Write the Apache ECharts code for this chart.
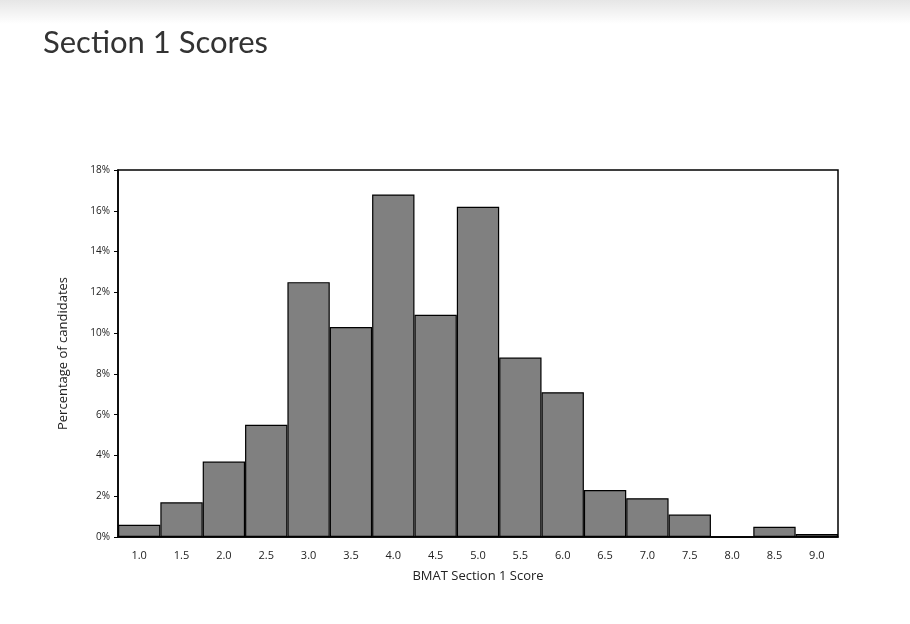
<!DOCTYPE html>
<html>
<head>
<meta charset="utf-8">
<script src="https://cdn.jsdelivr.net/npm/echarts@6/dist/echarts.min.js"></script>
<style>
  html, body { margin: 0; padding: 0; background: #fff; }
  #main { width: 910px; height: 624px; }
</style>
</head>
<body>
<div id="main"></div>
<script type="text/javascript">
  // BMAT section 1 score bins and share of candidates (%)
  var scores = ['1.0','1.5','2.0','2.5','3.0','3.5','4.0','4.5','5.0','5.5','6.0','6.5','7.0','7.5','8.0','8.5','9.0'];
  var percents = [0.6, 1.7, 3.7, 5.5, 12.5, 10.3, 16.8, 10.9, 16.2, 8.8, 7.1, 2.3, 1.9, 1.1, 0, 0.5, 0.15];
  var yTicks = [0, 2, 4, 6, 8, 10, 12, 14, 16, 18];

  var myChart = echarts.init(document.getElementById('main'));
  myChart.setOption({
    animation: false,
    graphic: [{
      type: 'rect',
      shape: { x: 0, y: 0, width: 910, height: 24 },
      style: {
        fill: new echarts.graphic.LinearGradient(0, 0, 0, 1, [
          { offset: 0, color: '#e6e6e6' }, { offset: 1, color: '#ffffff' }
        ])
      },
      silent: true
    }],
    title: {
      text: 'Section 1 Scores',
      left: 38, top: 22,
      textStyle: { fontFamily: 'Lato', fontWeight: 'normal', fontSize: 31, color: '#333' }
    },
    grid: { left: 118, right: 72, top: 170, bottom: 87, show: true, borderColor: '#000', borderWidth: 1.5 },
    xAxis: {
      type: 'category',
      data: scores,
      name: 'BMAT Section 1 Score',
      nameLocation: 'middle',
      nameGap: 33,
      nameTextStyle: { fontFamily: 'Open Sans', fontSize: 13, color: '#222' },
      axisLine: { lineStyle: { color: '#000', width: 1.5 } },
      axisTick: { show: false },
      axisLabel: { fontFamily: 'Open Sans', fontSize: 11, color: '#222', margin: 13 }
    },
    yAxis: {
      type: 'value',
      min: 0, max: 18, interval: 2,
      name: 'Percentage of candidates',
      nameLocation: 'middle',
      nameGap: 48,
      nameTextStyle: { fontFamily: 'Open Sans', fontSize: 13, color: '#222' },
      axisLine: { show: true, lineStyle: { color: '#000', width: 1.5 } },
      axisTick: { show: true, length: 4, lineStyle: { color: '#000' } },
      splitLine: { show: false },
      axisLabel: {
        fontFamily: 'Open Sans', fontSize: 10, color: '#222', margin: 8,
        formatter: function (v) { return yTicks.indexOf(v) >= 0 ? v + '%' : ''; }
      }
    },
    series: [{
      type: 'bar',
      data: percents,
      barCategoryGap: 0,
      itemStyle: { color: '#808080', borderColor: '#000', borderWidth: 1.2 }
    }]
  });
</script>
</body>
</html>
